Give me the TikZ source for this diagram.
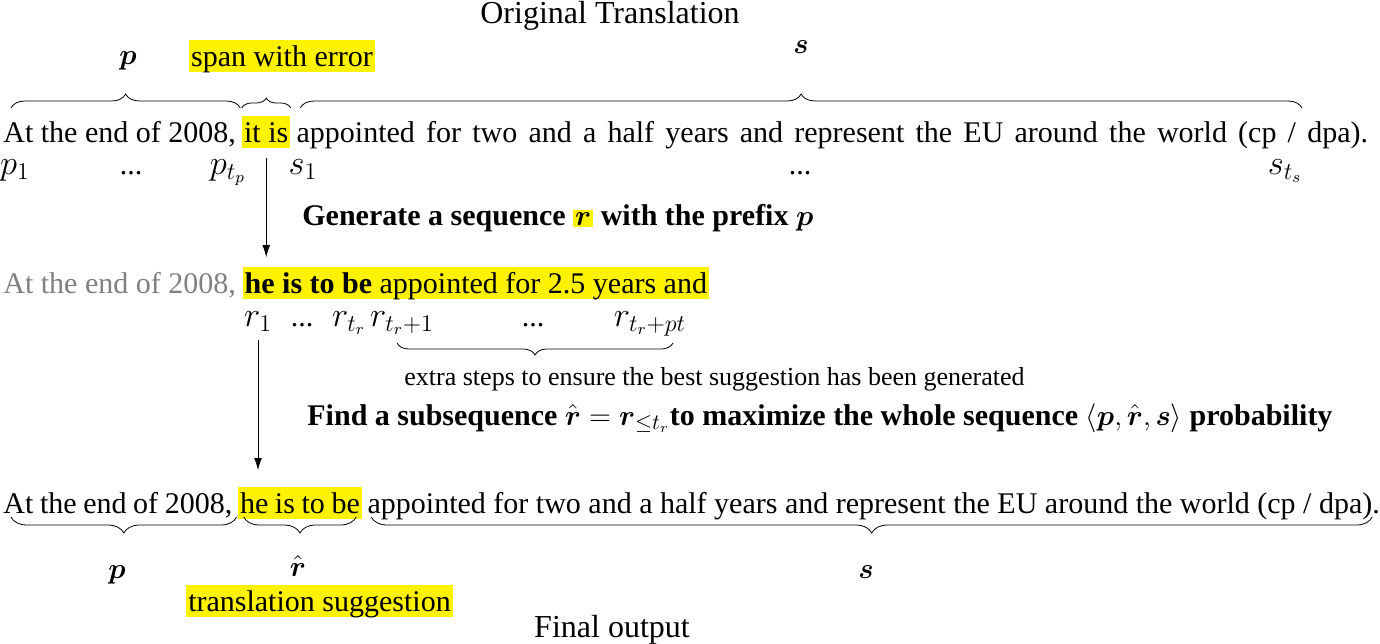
\documentclass[tikz,border=0pt]{standalone}
\usepackage{fontspec}
\setmainfont{Liberation Serif}
\usepackage{amsmath}
\usetikzlibrary{positioning,decorations.pathreplacing,arrows.meta}
\newcommand{\fmain}{\fontsize{15}{18}\selectfont}
\newcommand{\fsym}{\fontsize{17}{20}\selectfont}
\newcommand{\ftitle}{\fontsize{16}{19}\selectfont}
\newcommand{\fsmall}{\fontsize{13}{16}\selectfont}
\setlength{\fboxsep}{1pt}
\begin{document}
\begin{tikzpicture}[x = 0.5pt, y = -0.5pt,
    every node/.style = {inner sep = 0pt},
    txt/.style = {font = \fmain, anchor = base west},
    hl/.style = {txt, fill = yellow, inner xsep = 1pt, inner ysep = 2pt,
                 text height = 11pt, text depth = 1pt},
    sym/.style = {font = \fsym, anchor = base},
    lab/.style = {font = \fmain, anchor = base},
    brc/.style = {decorate, decoration = {brace, amplitude = #1}},
    brc/.default = 7pt,
    arr/.style = {-{Latex[length = 6pt, width = 4pt]}}]
    \useasboundingbox (0, 0) rectangle (1380, 643);

    % original translation
    \node[font = \ftitle, anchor = base] (orig) at (610, 23) {Original Translation};
    \node[txt] (a1) at (3, 142) {At the end of 2008,};
    \node[hl, base right = 2.75pt of a1] (e1) {it is};
    \node[txt, base right = 2.75pt of e1] (s1) {\spaceskip = 5.6pt appointed for two and a half years and represent the EU around the world (cp / dpa).};
    \draw[brc] ([xshift = 4pt]a1.west |- 0, 108) -- ([xshift = 2pt]a1.east |- 0, 108);
    \draw[brc = 5pt] (e1.west |- 0, 108) -- (e1.east |- 0, 108);
    \draw[brc] ([xshift = 2pt]s1.west |- 0, 108) -- (1302, 108);
    \node[lab] (p1lab) at (128, 64) {$\boldsymbol{p}$};
    \node[hl, anchor = base] (err) at (282, 66) {span with error};
    \node[lab] (s1lab) at (801, 53) {$\boldsymbol{s}$};
    \node[sym] (p1) at (15, 174) {$p_1$};
    \node[lab] (pd) at (131, 174) {...};
    \node[sym] (ptp) at (228, 174) {$p_{t_p}$};
    \node[sym] (s1a) at (303, 174) {$s_1$};
    \node[lab] (sd) at (800, 174) {...};
    \node[sym] (sts) at (1285, 174) {$s_{t_s}$};

    % generation
    \draw[arr] ([yshift = -5pt]e1.south) -- (e1.south |- 0, 257);
    \node[txt, font = {\fmain\bfseries}] (gen) at (302, 225)
        {Generate a sequence \colorbox{yellow}{$\boldsymbol{r}$} with the prefix $\boldsymbol{p}$};
    \node[txt, text = gray] (a2) at (3, 293) {At the end of 2008,};
    \node[hl, base right = 3pt of a2] (h2) {\textbf{he is to be} appointed for 2.5 years and};
    \node[sym] (r1) at (258, 326) {$r_1$};
    \node[lab] (rd) at (302, 326) {...};
    \node[sym] (rtr) at (349, 326) {$r_{t_r}$};
    \node[sym] (rtr1) at (402, 326) {$r_{t_r+1}$};
    \node[lab] (rd2) at (533, 326) {...};
    \node[sym] (rpt) at (650, 326) {$r_{t_r+pt}$};
    \draw[brc = 6pt] (673, 343) -- (397, 343);
    \node[txt, font = \fsmall] (extra) at (404, 385) {extra steps to ensure the best suggestion has been generated};
    \node[txt, font = {\fmain\bfseries}] (find) at (307, 425)
        {Find a subsequence $\hat{\boldsymbol{r}} = \boldsymbol{r}_{\le t_r}$to maximize the whole sequence $\langle \boldsymbol{p}, \hat{\boldsymbol{r}}, \boldsymbol{s} \rangle$ probability};
    \draw[arr] ([yshift = -4pt]r1.south) -- (r1.south |- 0, 470);

    % final output
    \node[txt] (a3) at (3, 513) {\spaceskip = 3.3pt At the end of 2008,};
    \node[hl, base right = 2.5pt of a3] (h3) {\spaceskip = 3.3pt he is to be};
    \node[txt, base right = 2.5pt of h3] (s3) {appointed for two and a half years and represent the EU around the world (cp / dpa).};
    \draw[brc = 8pt] ([xshift = 2pt]a3.east |- 0, 517) -- ([xshift = 4pt]a3.west |- 0, 517);
    \draw[brc = 8pt] ([xshift = -3pt]h3.east |- 0, 517) -- ([xshift = 3pt]h3.west |- 0, 517);
    \draw[brc = 8pt] ([xshift = -4pt]s3.east |- 0, 517) -- ([xshift = 2pt]s3.west |- 0, 517);
    \node[lab] (p3lab) at (117, 578) {$\boldsymbol{p}$};
    \node[lab] (r3lab) at (298, 576) {$\hat{\boldsymbol{r}}$};
    \node[lab] (s3lab) at (866, 578) {$\boldsymbol{s}$};
    \node[hl, anchor = base] (sugg) at (319.5, 611) {translation suggestion};
    \node[font = \ftitle, anchor = base] (final) at (612, 637) {Final output};
\end{tikzpicture}
\end{document}
